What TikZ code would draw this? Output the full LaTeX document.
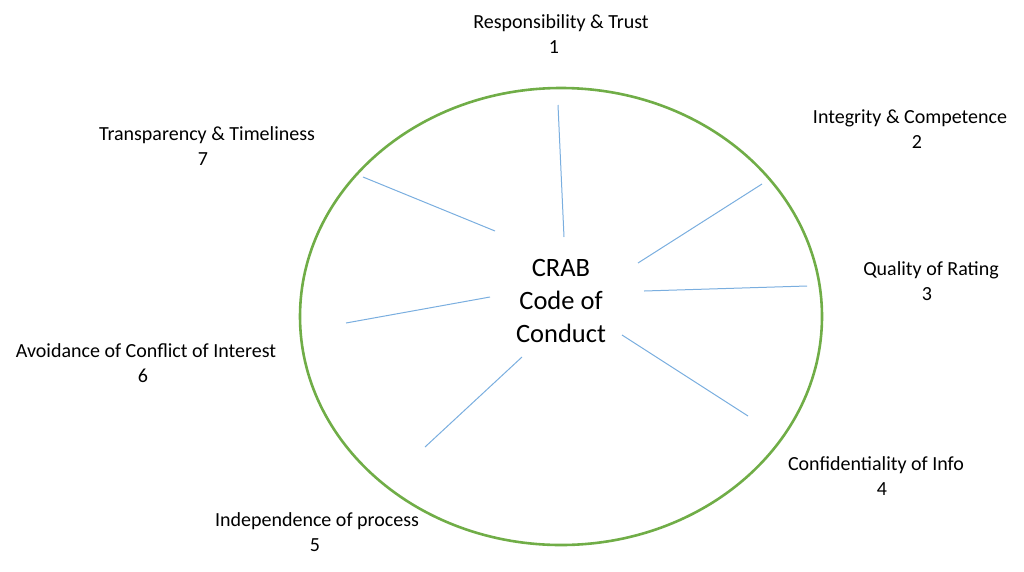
\documentclass[tikz,border=0pt]{standalone}
\usepackage{fontspec}
\setmainfont{Carlito}
\definecolor{ringgreen}{HTML}{70AD47}
\definecolor{spokeblue}{HTML}{7AAEDF}
\newcommand{\numshift}[2]{\hspace*{#1}#2}
\begin{document}
\begin{tikzpicture}[x=1pt,y=-1pt,
  lbl/.style={align=center,font=\fontsize{20}{25}\selectfont,inner sep=0pt},
  spoke/.style={draw=spokeblue,line width=1pt},
  ring/.style={draw=ringgreen,line width=2.6pt}]
\useasboundingbox (0,0) rectangle (1024,571);
\draw[ring] (561,316.5) ellipse [x radius=261, y radius=228.5];
\node[align=center,font=\fontsize{26.5}{33}\selectfont,inner sep=0pt] (center) at (561,301) {CRAB\\Code of\\Conduct};
\node[lbl] (l1) at (561,34.5) {Responsibility \& Trust\\\numshift{-14pt}{1}};
\node[lbl] (l2) at (910,129.5) {Integrity \& Competence\\\numshift{14pt}{2}};
\node[lbl] (l3) at (931,281) {Quality of Rating\\\numshift{-8pt}{3}};
\node[lbl] (l4) at (876,476) {Confidentiality of Info\\\numshift{12pt}{4}};
\node[lbl] (l5) at (317,532) {Independence of process\\\numshift{-4pt}{5}};
\node[lbl] (l6) at (146,363.5) {Avoidance of Conflict of Interest\\\numshift{-6pt}{6}};
\node[lbl] (l7) at (207,146.5) {Transparency \& Timeliness\\\numshift{-8pt}{7}};
\coordinate (a1) at (558,105); \coordinate (b1) at (564,237);
\coordinate (a2) at (762,184); \coordinate (b2) at (638,263);
\coordinate (a3) at (807,286); \coordinate (b3) at (644,291);
\coordinate (a4) at (748,416); \coordinate (b4) at (622,335);
\coordinate (a5) at (425,447); \coordinate (b5) at (522,357);
\coordinate (a6) at (346,323); \coordinate (b6) at (490,297);
\coordinate (a7) at (363,177); \coordinate (b7) at (495,231);
\foreach \i in {1,...,7} {\draw[spoke] (a\i) -- (b\i);}
\end{tikzpicture}
\end{document}
